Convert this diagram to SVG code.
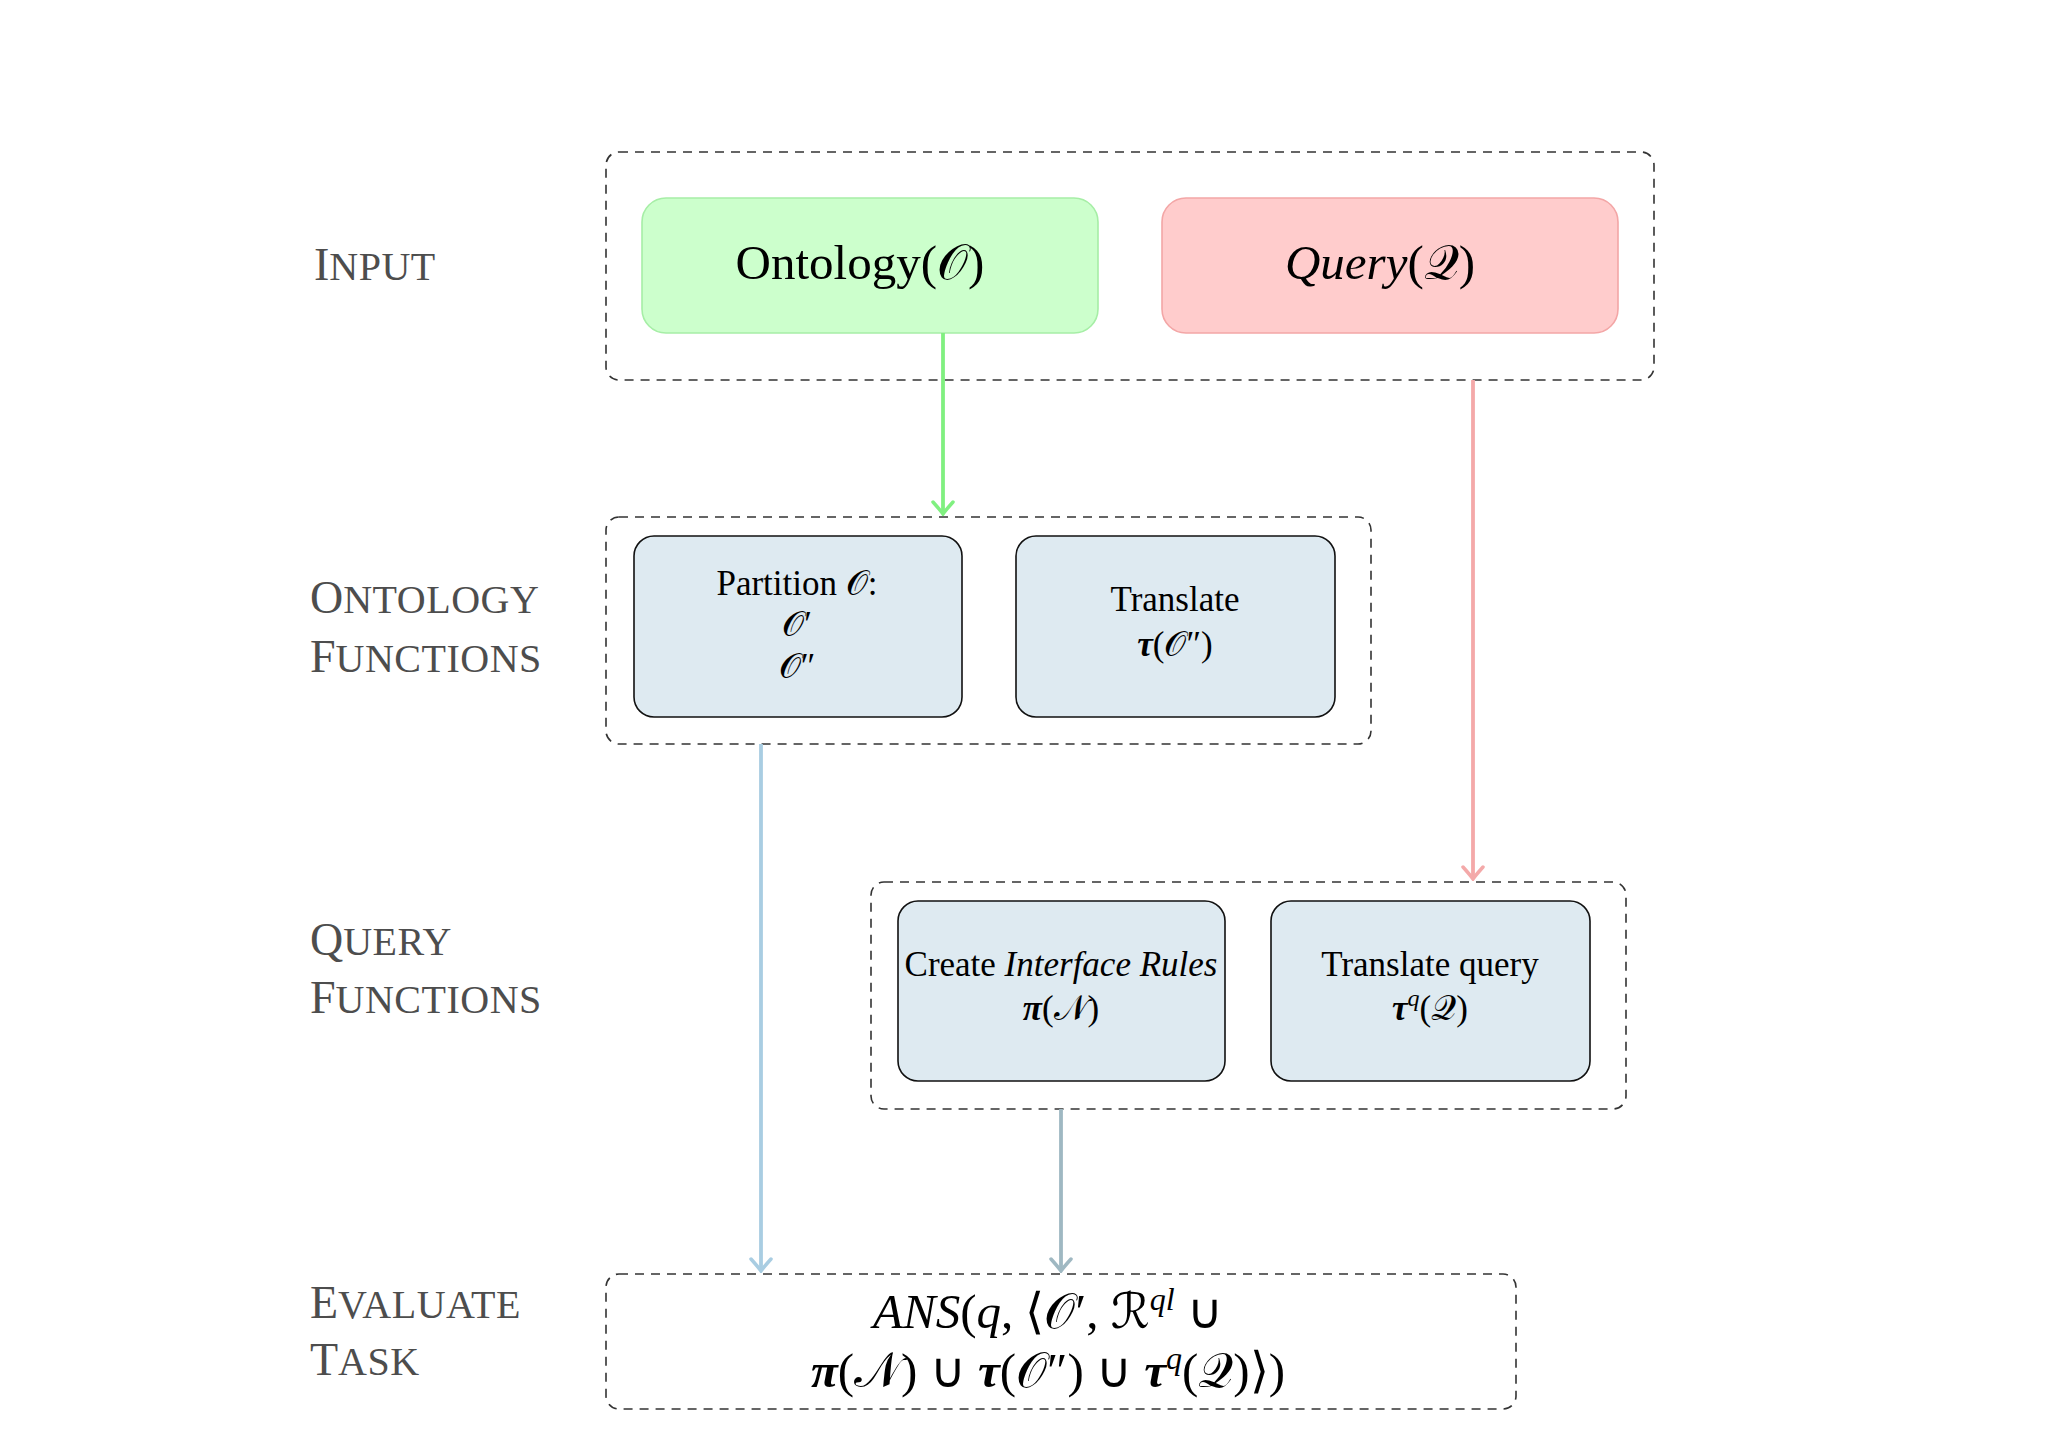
<svg xmlns="http://www.w3.org/2000/svg" width="2064" height="1440" viewBox="0 0 2064 1440">
<style>
.grp{fill:none;stroke:#333;stroke-width:1.6;stroke-dasharray:9 7}
.inner{fill:#deeaf1;stroke:#111;stroke-width:1.6}
.lbl{font-family:"Liberation Serif","Times New Roman",serif;fill:#4d4d4d;font-size:46px}
.sc{font-size:40px;letter-spacing:0.5px}
.t{font-family:"Liberation Serif","Times New Roman",serif;fill:#000;font-size:35px;text-anchor:middle}
.big{font-size:49px}
.eq{font-size:49px}
.i{font-style:italic}
.cal{font-family:"DejaVu Serif","DejaVu Sans","Liberation Serif",serif;font-style:normal}
.bi{font-weight:bold;font-style:italic}
.conn{fill:none;stroke-width:3.8}
</style>
<defs>
<marker id="ag" markerUnits="userSpaceOnUse" viewBox="-14 -12 16 24" refX="0" refY="0" markerWidth="16" markerHeight="24" orient="auto"><path d="M-12,-10 Q-3,-2 0,0 Q-3,2 -12,10" fill="none" stroke="#80f080" stroke-width="3.5" stroke-linecap="round"/></marker>
<marker id="ar" markerUnits="userSpaceOnUse" viewBox="-14 -12 16 24" refX="0" refY="0" markerWidth="16" markerHeight="24" orient="auto"><path d="M-12,-10 Q-3,-2 0,0 Q-3,2 -12,10" fill="none" stroke="#f4a9a9" stroke-width="3.5" stroke-linecap="round"/></marker>
<marker id="ab" markerUnits="userSpaceOnUse" viewBox="-14 -12 16 24" refX="0" refY="0" markerWidth="16" markerHeight="24" orient="auto"><path d="M-12,-10 Q-3,-2 0,0 Q-3,2 -12,10" fill="none" stroke="#a9cde2" stroke-width="3.5" stroke-linecap="round"/></marker>
<marker id="ak" markerUnits="userSpaceOnUse" viewBox="-14 -12 16 24" refX="0" refY="0" markerWidth="16" markerHeight="24" orient="auto"><path d="M-12,-10 Q-3,-2 0,0 Q-3,2 -12,10" fill="none" stroke="#9fb8c2" stroke-width="3.5" stroke-linecap="round"/></marker>
</defs>
<rect width="2064" height="1440" fill="#fff"/>

<g id="labels">
<text class="lbl" x="314" y="280">I<tspan class="sc">NPUT</tspan></text>
<text class="lbl" x="310" y="613">O<tspan class="sc">NTOLOGY</tspan></text>
<text class="lbl" x="310" y="672">F<tspan class="sc">UNCTIONS</tspan></text>
<text class="lbl" x="310" y="955">Q<tspan class="sc">UERY</tspan></text>
<text class="lbl" x="310" y="1013">F<tspan class="sc">UNCTIONS</tspan></text>
<text class="lbl" x="310" y="1318">E<tspan class="sc">VALUATE</tspan></text>
<text class="lbl" x="310" y="1375">T<tspan class="sc">ASK</tspan></text>
</g>

<g id="input-group">
<rect class="grp" x="606" y="152" width="1048" height="228" rx="13"/>
</g>
<g id="ontology">
<rect x="642" y="198" width="456" height="135" rx="24" fill="#ccffcc" stroke="#a6eea6" stroke-width="1.6"/>
<text class="t big" x="860" y="279">Ontology(<tspan class="cal">𝒪</tspan>)</text>
</g>
<g id="query">
<rect x="1162" y="198" width="456" height="135" rx="24" fill="#ffcccc" stroke="#f3a6a6" stroke-width="1.6"/>
<text class="t big" x="1380" y="279"><tspan class="i">Query</tspan>(<tspan class="cal">𝒬</tspan>)</text>
</g>

<g id="ontology-functions">
<rect class="grp" x="606" y="517" width="765" height="227" rx="13"/>
</g>
<g id="partition">
<rect class="inner" x="634" y="536" width="328" height="181" rx="20"/>
<text class="t" x="797" y="595" font-size="36">Partition <tspan class="cal">𝒪</tspan>:</text>
<text class="t" x="797" y="636" font-size="36"><tspan class="cal">𝒪</tspan>′</text>
<text class="t" x="797" y="678" font-size="36"><tspan class="cal">𝒪</tspan>″</text>
</g>
<g id="translate">
<rect class="inner" x="1016" y="536" width="319" height="181" rx="20"/>
<text class="t" x="1175" y="611">Translate</text>
<text class="t" x="1175" y="656"><tspan class="bi">τ</tspan>(<tspan class="cal">𝒪</tspan>″)</text>
</g>

<g id="query-functions">
<rect class="grp" x="871" y="882" width="755" height="227" rx="13"/>
</g>
<g id="interface-rules">
<rect class="inner" x="898" y="901" width="327" height="180" rx="20"/>
<text class="t" x="1061" y="976">Create <tspan class="i">Interface Rules</tspan></text>
<text class="t" x="1061" y="1020"><tspan class="bi">π</tspan>(<tspan class="cal">𝒩</tspan>)</text>
</g>
<g id="translate-query">
<rect class="inner" x="1271" y="901" width="319" height="180" rx="20"/>
<text class="t" x="1430" y="976">Translate query</text>
<text class="t" x="1430" y="1020"><tspan class="bi">τ</tspan><tspan class="i" font-size="24" dy="-14">q</tspan><tspan dy="14">(</tspan><tspan class="cal">𝒬</tspan>)</text>
</g>

<g id="evaluate">
<rect class="grp" x="606" y="1274" width="910" height="135" rx="13"/>
<text class="t eq" x="1048" y="1328"><tspan class="i">ANS</tspan>(<tspan class="i">q</tspan>, ⟨<tspan class="cal">𝒪</tspan>′, <tspan class="cal">ℛ</tspan><tspan class="i" font-size="32" dy="-18">ql</tspan><tspan dy="18"> ∪</tspan></text>
<text class="t eq" x="1048" y="1387"><tspan class="bi">π</tspan>(<tspan class="cal">𝒩</tspan>) ∪ <tspan class="bi">τ</tspan>(<tspan class="cal">𝒪</tspan>″) ∪ <tspan class="bi">τ</tspan><tspan class="i" font-size="32" dy="-18">q</tspan><tspan dy="18">(</tspan><tspan class="cal">𝒬</tspan>)⟩)</text>
</g>

<g id="connectors">
<path class="conn" stroke="#80f080" d="M943,333 V514" marker-end="url(#ag)"/>
<path class="conn" stroke="#f4a9a9" d="M1473,380 V879" marker-end="url(#ar)"/>
<path class="conn" stroke="#a9cde2" d="M761,744 V1271" marker-end="url(#ab)"/>
<path class="conn" stroke="#9fb8c2" d="M1061,1109 V1271" marker-end="url(#ak)"/>
</g>
</svg>
